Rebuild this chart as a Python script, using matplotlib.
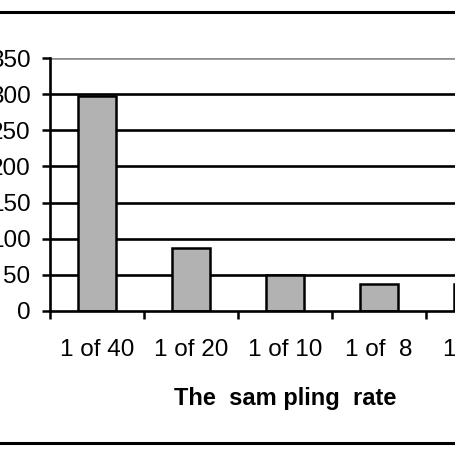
import matplotlib.pyplot as plt
from matplotlib.lines import Line2D

rates = ['1 of 40', '1 of 20', '1 of 10', '1 of  8', '1 of 4']
counts = [297, 87, 50, 37, 37]
yticks = [0, 50, 100, 150, 200, 250, 300, 350]

plt.rcParams['font.family'] = ['Liberation Sans', 'DejaVu Sans']

fig = plt.figure(figsize=(4.55, 4.55), dpi=100)
ax = fig.add_axes([0.110, 0.3165, 1.033, 0.556])

# gridlines: black, top one grey like the Excel plot area edge
for v in yticks[1:-1]:
    ax.axhline(v, color='black', lw=1.9, zorder=1)
ax.axhline(yticks[-1], color='#8c8c8c', lw=1.9, zorder=1)

ax.bar(range(len(rates)), counts, width=0.4, color='#b2b2b2',
       edgecolor='black', linewidth=1.8, zorder=2)

ax.set_xlim(-0.5, len(rates) - 0.5)
ax.set_ylim(0, 350)
ax.set_yticks(yticks)
ax.set_xticks([i + 0.5 for i in range(-1, len(rates))], minor=False)
ax.set_xticklabels([])
ax.set_xticks(range(len(rates)), minor=True)
ax.set_xticklabels(rates, minor=True, fontsize=17.5)
ax.tick_params(axis='x', which='minor', length=0, pad=20)
ax.tick_params(axis='x', which='major', length=6, width=1.8, direction='out')
ax.tick_params(axis='y', length=6, width=1.8, direction='out', pad=8,
               labelsize=17.5)

for s in ['top', 'right']:
    ax.spines[s].set_visible(False)
for s in ['left', 'bottom']:
    ax.spines[s].set_linewidth(1.9)

ax.set_xlabel('The  sam pling  rate', fontsize=17, fontweight='bold',
              labelpad=19)

# outer frame lines
fig.add_artist(Line2D([0, 1], [1 - 12 / 455, 1 - 12 / 455], color='black', lw=2.2))
fig.add_artist(Line2D([0, 1], [12 / 455, 12 / 455], color='black', lw=2.2))

fig.savefig('out.png', dpi=100)
